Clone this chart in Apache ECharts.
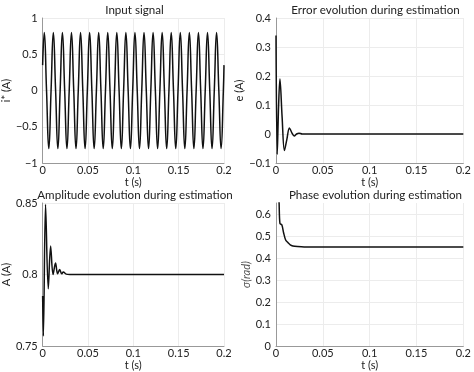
<!DOCTYPE html>
<html>
<head>
<meta charset="utf-8">
<script src="https://cdn.jsdelivr.net/npm/echarts@6/dist/echarts.min.js"></script>
<style>html,body{margin:0;padding:0;background:#fff}#c{width:474px;height:372px}</style>
</head>
<body>
<div id="c"></div>
<script>
// ---- data ----
var titles = ['Input signal', 'Error evolution during estimation', 'Amplitude evolution during estimation', 'Phase evolution during estimation'];
var yNames = ['i* (A)', 'e (A)', 'A (A)', 'σ(rad)'];
var xName = 't (s)';

// Input signal: peaks / zero crossings / troughs (100 Hz, amplitude 0.8)
var inputT = [0,
  0.0018,0.0043,0.0068,0.0093, 0.0118,0.0143,0.0168,0.0193,
  0.0218,0.0243,0.0268,0.0293, 0.0318,0.0343,0.0368,0.0393,
  0.0418,0.0443,0.0468,0.0493, 0.0518,0.0543,0.0568,0.0593,
  0.0618,0.0643,0.0668,0.0693, 0.0718,0.0743,0.0768,0.0793,
  0.0818,0.0843,0.0868,0.0893, 0.0918,0.0943,0.0968,0.0993,
  0.1018,0.1043,0.1068,0.1093, 0.1118,0.1143,0.1168,0.1193,
  0.1218,0.1243,0.1268,0.1293, 0.1318,0.1343,0.1368,0.1393,
  0.1418,0.1443,0.1468,0.1493, 0.1518,0.1543,0.1568,0.1593,
  0.1618,0.1643,0.1668,0.1693, 0.1718,0.1743,0.1768,0.1793,
  0.1818,0.1843,0.1868,0.1893, 0.1918,0.1943,0.1968,0.1993,
  0.2];
var inputV = [0.35,
  0.8,0,-0.8,0, 0.8,0,-0.8,0, 0.8,0,-0.8,0, 0.8,0,-0.8,0,
  0.8,0,-0.8,0, 0.8,0,-0.8,0, 0.8,0,-0.8,0, 0.8,0,-0.8,0,
  0.8,0,-0.8,0, 0.8,0,-0.8,0, 0.8,0,-0.8,0, 0.8,0,-0.8,0,
  0.8,0,-0.8,0, 0.8,0,-0.8,0, 0.8,0,-0.8,0, 0.8,0,-0.8,0,
  0.8,0,-0.8,0, 0.8,0,-0.8,0, 0.8,0,-0.8,0, 0.8,0,-0.8,0,
  0.35];

var errT = [0, 0.0013, 0.0028, 0.0042, 0.0065, 0.009, 0.0115, 0.0143, 0.0168, 0.0195, 0.022, 0.0245, 0.028, 0.2];
var errV = [0.34, -0.07, 0.1, 0.19, 0.06, -0.057, -0.02, 0.021, 0.005, -0.007, 0, 0.003, 0, 0];

var ampT = [0, 0.0008, 0.0032, 0.0062, 0.0088, 0.0115, 0.0142, 0.0165, 0.0188, 0.021, 0.0228, 0.026, 0.03, 0.2];
var ampV = [0.785, 0.757, 0.849, 0.79, 0.82, 0.80, 0.808, 0.8005, 0.8035, 0.8005, 0.8018, 0.8003, 0.8, 0.8];

var phT = [0, 0.0032, 0.0042, 0.0063, 0.0081, 0.0103, 0.0127, 0.0152, 0.018, 0.023, 0.03, 0.2];
var phV = [0.85, 0.66, 0.557, 0.55, 0.515, 0.482, 0.47, 0.46, 0.455, 0.452, 0.45, 0.45];

var yMin = [-1, -0.1, 0.75, 0];
var yMax = [1, 0.4, 0.85, 0.65];
var yStep = [0.5, 0.1, 0.05, 0.1];
var xMin = 0, xMax = 0.2, xStep = 0.05;

// ---- layout ----
var grids = [
  {left: 35, top: 18, width: 189, height: 145},
  {left: 276, top: 18, width: 189, height: 145},
  {left: 36, top: 203, width: 188, height: 146},
  {left: 276, top: 203, width: 189, height: 146}
];
var nameGaps = [22, 23, 20, 23];
var FONT = 'Lato';

function fmt(v) {
  var s = String(+v.toFixed(4));
  return s.replace('-', '\u2212');
}
function pairs(t, v) { return t.map(function (x, i) { return [x, v[i]]; }); }
var seriesData = [pairs(inputT, inputV), pairs(errT, errV), pairs(ampT, ampV), pairs(phT, phV)];
var smooths = [0.5, 0.35, 0.35, 0.3];

var option = {
  animation: false,
  backgroundColor: '#fff',
  title: titles.map(function (t, i) {
    return {
      text: t, left: grids[i].left + grids[i].width / 2, top: grids[i].top - 18.5, textAlign: 'center',
      textStyle: {fontFamily: FONT, fontSize: 11.6, fontWeight: 'normal', color: '#222'}
    };
  }),
  grid: grids,
  xAxis: grids.map(function (g, i) {
    return {
      type: 'value', gridIndex: i, min: xMin, max: xMax, interval: xStep,
      name: xName, nameLocation: 'middle', nameGap: 11,
      nameTextStyle: {fontFamily: FONT, fontSize: 11, color: '#222'},
      axisLine: {show: true, onZero: false, lineStyle: {color: '#999', width: 1}},
      axisTick: {show: false},
      axisLabel: {formatter: fmt, margin: 2, fontFamily: FONT, fontSize: 11, color: '#222'},
      splitLine: {show: true, lineStyle: {color: '#ececec', width: 1}}
    };
  }),
  yAxis: grids.map(function (g, i) {
    return {
      type: 'value', gridIndex: i, min: yMin[i], max: yMax[i], interval: yStep[i],
      name: yNames[i], nameLocation: 'middle', nameGap: nameGaps[i], nameRotate: 90,
      nameTextStyle: {fontFamily: FONT, fontSize: 11, color: i === 3 ? '#555' : '#222', fontStyle: i === 3 ? 'italic' : 'normal'},
      axisLine: {show: true, onZero: false, lineStyle: {color: '#999', width: 1}},
      axisTick: {show: false},
      axisLabel: {formatter: fmt, margin: 5, fontFamily: FONT, fontSize: 11, color: '#222', showMaxLabel: i !== 3},
      splitLine: {show: true, showMaxLine: i !== 3, lineStyle: {color: '#ececec', width: 1}}
    };
  }),
  series: seriesData.map(function (d, i) {
    return {
      type: 'line', xAxisIndex: i, yAxisIndex: i, data: d, smooth: smooths[i],
      showSymbol: false, symbol: 'none', clip: true,
      lineStyle: {color: '#111', width: 1.5}
    };
  })
};
var chart = echarts.init(document.getElementById('c'), null, {renderer: 'canvas'});
chart.setOption(option);
</script>
</body>
</html>
